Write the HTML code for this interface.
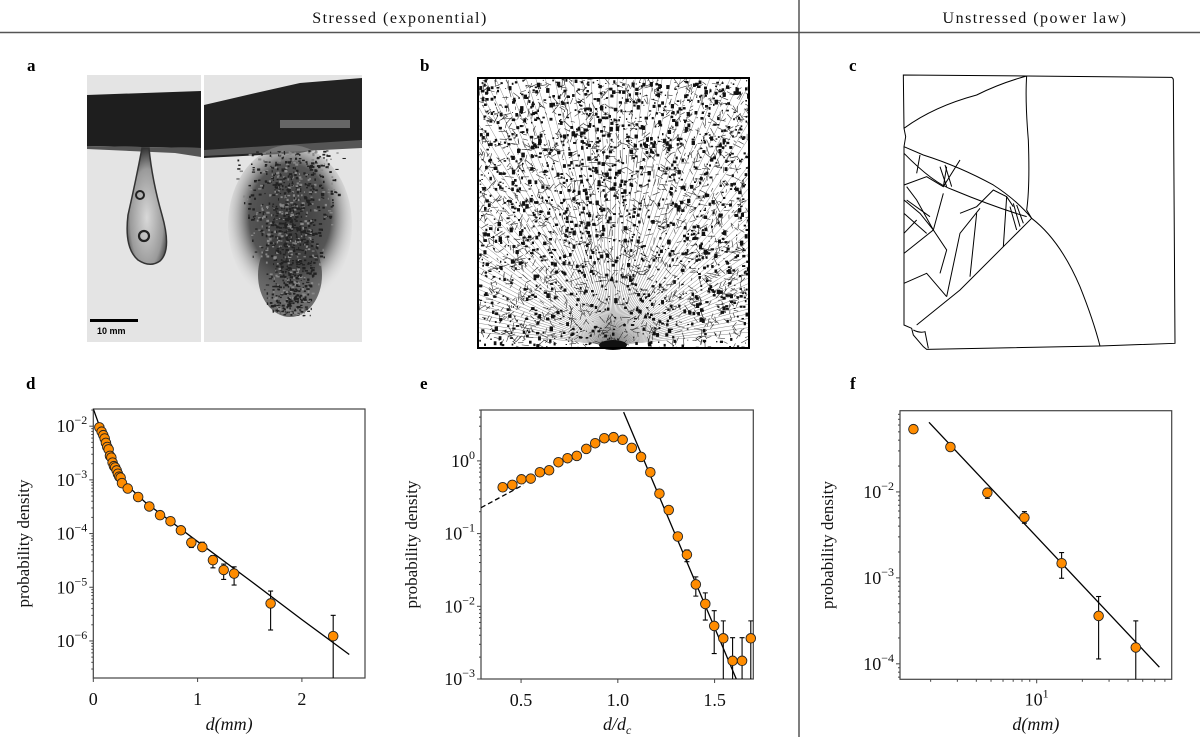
<!DOCTYPE html>
<html><head><meta charset="utf-8"><style>
html,body{margin:0;padding:0;background:#fff;}
svg{display:block;font-family:"Liberation Serif",serif;}
</style></head><body>
<svg id="fig" width="1200" height="737" viewBox="0 0 1200 737" xmlns="http://www.w3.org/2000/svg">
<defs>
<radialGradient id="dropg" cx="0.5" cy="0.6" r="0.6"><stop offset="0" stop-color="#d8d8d8"/><stop offset="0.7" stop-color="#9a9a9a"/><stop offset="1" stop-color="#333"/></radialGradient>
<radialGradient id="cloudg" cx="0.5" cy="0.45" r="0.55"><stop offset="0" stop-color="#3a3a3a"/><stop offset="0.6" stop-color="#555"/><stop offset="1" stop-color="#e0e0e0" stop-opacity="0"/></radialGradient>
<clipPath id="bclip"><rect x="478" y="78" width="271" height="270"/></clipPath>
<clipPath id="aclip"><rect x="204" y="75" width="158" height="267"/></clipPath>
</defs>
<rect x="0" y="0" width="1200" height="737" fill="#fff"/>
<text x="400" y="23" text-anchor="middle" font-size="16" letter-spacing="1.5" fill="#111">Stressed (exponential)</text>
<text x="1035" y="23" text-anchor="middle" font-size="16" letter-spacing="1.5" fill="#111">Unstressed (power law)</text>
<line x1="0" y1="32.5" x2="1200" y2="32.5" stroke="#555" stroke-width="1.5"/>
<line x1="799" y1="0" x2="799" y2="737" stroke="#555" stroke-width="1.5"/>

<g font-weight="bold" font-size="17" fill="#000">
<text x="27" y="71">a</text>
<text x="420" y="71">b</text>
<text x="849" y="71">c</text>
<text x="26" y="389">d</text>
<text x="420" y="389">e</text>
<text x="850" y="389">f</text>
</g>

<!-- panel a -->
<g>
<rect x="87" y="75" width="114" height="267" fill="#e4e4e4"/>
<path d="M87,95 L201,91 L201,148 L87,146 Z" fill="#1e1e1e"/>
<path d="M87,146 L201,148 L201,157 L175,153 L87,149 Z" fill="#555"/>
<path d="M142,148 L149,148 Q152,180 162,215 Q172,250 160,261 Q150,268 138,260 Q124,248 128,215 Q136,180 142,148 Z" fill="url(#dropg)" stroke="#333" stroke-width="1.5"/>
<circle cx="140" cy="195" r="4" fill="none" stroke="#222" stroke-width="2"/>
<circle cx="144" cy="236" r="5" fill="none" stroke="#222" stroke-width="2.2"/>
<rect x="90" y="319" width="48" height="3" fill="#000"/>
<text x="97" y="334" font-family="Liberation Sans,sans-serif" font-size="9" font-weight="bold">10 mm</text>
</g>
<g clip-path="url(#aclip)">
<rect x="204" y="75" width="158" height="267" fill="#e4e4e4"/>
<path d="M204,105 L260,92 L300,83 L362,78 L362,140 L300,153 L204,158 Z" fill="#222"/>
<path d="M204,150 L362,140 L362,148 L204,156 Z" fill="#555"/>
<rect x="280" y="120" width="70" height="8" fill="#666"/>
<ellipse cx="290" cy="225" rx="62" ry="80" fill="url(#cloudg)"/>
<ellipse cx="290" cy="275" rx="32" ry="42" fill="#3a3a3a" opacity="0.7"/>
<g id="debris"></g>
</g>

<!-- panel b -->
<g>
<rect x="478" y="78" width="271" height="270" fill="#fff"/>
<g id="bcracks" clip-path="url(#bclip)"></g>
<ellipse cx="613" cy="345" rx="14" ry="5" fill="#111"/>
<rect x="478" y="78" width="271" height="270" fill="none" stroke="#000" stroke-width="2"/>
</g>

<!-- panel c -->
<g transform="translate(760,0) scale(0.33333)" fill="none" stroke="#000" stroke-width="3">
<path d="M430,225 L800,228 L1235,232 Q1240,235 1240,240 L1245,1030 L1020,1038 L500,1048 L490,1040 L460,1005 L455,985 L432,975 L432,440 L437,410 L432,385 Z"/>
<path d="M432,385 Q520,320 650,285 Q720,250 800,228"/>
<path d="M800,228 Q795,300 805,420 Q810,560 800,630 L815,655"/>
<path d="M432,440 L490,465 Q600,500 700,555 Q770,600 815,655"/>
<path d="M815,655 Q900,720 960,860 Q1000,960 1020,1038"/>
<path d="M815,655 L740,730 L600,870 L470,975"/>
<path d="M432,460 Q520,550 580,570 Q700,620 800,650"/>
<path d="M432,850 L500,820 L560,890"/>
<path d="M432,760 L520,690 L560,750 L540,820"/>
<path d="M520,690 L470,600 L440,560"/>
<path d="M432,555 L500,530 L550,560 L600,480 M550,560 L560,500 M480,465 L470,520"/>
<path d="M600,640 L650,620 L700,570 L740,590 L760,620 M560,890 L600,700 L660,625 M630,830 L650,640 M730,740 L740,590"/>
<path d="M432,600 L480,640 L520,690 M432,700 L470,660 M550,580 L520,690 M432,640 L500,700 M440,600 L510,650"/>
<path d="M760,610 L780,680 M770,615 L790,670 M750,620 L770,690 M540,500 L560,560 M555,495 L575,560"/>
<path d="M460,990 Q480,1000 495,995 L505,1045"/>
</g>

<g id="plots"></g>
</svg>
<script>
// ---------------- data: panel d ----------------
const dX = [0.058,0.08,0.096,0.109,0.121,0.134,0.147,0.16,0.173,0.185,0.198,0.21,0.224,0.236,0.249,0.262,0.275,0.33,0.43,0.537,0.64,0.74,0.84,0.94,1.045,1.147,1.25,1.35,1.7,2.3];
const dY = [9.5e-3,7.9e-3,6.8e-3,5.9e-3,4.9e-3,4.1e-3,3.7e-3,2.8e-3,2.6e-3,2.1e-3,1.8e-3,1.7e-3,1.5e-3,1.3e-3,1.15e-3,1.1e-3,8.7e-4,6.9e-4,4.8e-4,3.2e-4,2.2e-4,1.7e-4,1.15e-4,6.8e-5,5.6e-5,3.2e-5,2.1e-5,1.8e-5,5e-6,1.23e-6];
const dErrHi = [null,null,null,null,null,null,null,null,null,null,null,null,null,null,null,null,null,null,null,null,null,null,null,8.1e-5,6.9e-5,3.9e-5,2.7e-5,2.4e-5,8.5e-6,3e-6];
const dErrLo = [null,null,null,null,null,null,null,null,null,null,null,null,null,null,null,null,null,null,null,null,null,null,null,5.5e-5,4.7e-5,2.3e-5,1.4e-5,1.1e-5,1.6e-6,1e-9];
const dFitX = [0,0.06,0.15,0.25,0.35,0.5,1,1.5,2,2.454];
const dFitY = [2.1e-2,1e-2,3.5e-3,1.3e-3,7.1e-4,3.8e-4,7.1e-5,1.35e-5,2.5e-6,5.6e-7];
const dXTicks = [0,1,2];
const dXTickLabels = ["0","1","2"];
const dYTicks = [-2,-3,-4,-5,-6];
// ---------------- data: panel e ----------------
const eX = [0.405,0.455,0.502,0.55,0.597,0.645,0.693,0.74,0.788,0.837,0.883,0.93,0.978,1.025,1.072,1.12,1.168,1.215,1.263,1.31,1.357,1.403,1.452,1.498,1.545,1.593,1.642,1.687];
const eY = [0.434,0.468,0.558,0.571,0.698,0.743,0.959,1.089,1.172,1.462,1.75,2.05,2.12,1.95,1.51,1.135,0.698,0.355,0.211,0.0912,0.0513,0.02,0.0108,0.00537,0.00363,0.00178,0.00178,0.00363];
const eErrHi = [null,null,null,null,null,null,null,null,null,null,null,null,null,null,null,null,null,null,null,null,0.0596,0.0254,0.0153,0.0087,0.0063,0.0037,0.0037,0.0063];
const eErrLo = [null,null,null,null,null,null,null,null,null,null,null,null,null,null,null,null,null,null,null,null,0.0411,0.0138,0.00646,0.00224,1e-4,1e-4,1e-4,1e-4];
const eFitX = [1.03,1.612];
const eFitY = [4.68,1e-3];
const eDashX = [0.293,0.512];
const eDashY = [0.227,0.468];
const eXTicks = [0.5,1.0,1.5];
const eXTickLabels = ["0.5","1.0","1.5"];
const eYTicks = [0,-1,-2,-3];
// ---------------- data: panel f ----------------
const fX = [1.54,2.70,4.73,8.3,14.6,25.6,45];
const fY = [0.0537,0.0333,0.0098,0.00503,0.00148,0.000361,0.000155];
const fErrHi = [null,null,0.011,0.0059,0.00197,0.000607,0.000316];
const fErrLo = [null,null,0.00843,0.00433,0.00099,0.000114,1e-6];
const fFitX = [1.95,64.4];
const fFitY = [0.0646,9.14e-5];
const fXTicks = [10];
const fYTicks = [-2,-3,-4];

const NS = "http://www.w3.org/2000/svg";
const root = document.getElementById('plots');
function el(tag, attrs, parent){
  const e = document.createElementNS(NS, tag);
  for (const k in attrs) e.setAttribute(k, attrs[k]);
  (parent||root).appendChild(e);
  return e;
}
function lin(d0,d1,p0,p1){return v=>p0+(v-d0)/(d1-d0)*(p1-p0);}
function logs(d0,d1,p0,p1){return v=>p0+(Math.log10(v)-d0)/(d1-d0)*(p1-p0);}

function powLabel(g,x,y,exp,anchor){
  const t = el('text',{x:x,y:y,'font-size':18,'text-anchor':anchor||'end',fill:'#111'},g);
  t.appendChild(document.createTextNode('10'));
  const s = el('tspan',{'font-size':12,dy:-8},t);
  s.textContent = exp<0 ? '\u2212'+(-exp) : String(exp);
  return t;
}

function drawPanel(cfg){
  const g = el('g',{});
  
  
  const b = cfg.box;
  const cp = el('clipPath',{id:cfg.name+'-clip'},g);
  el('rect',{x:b.x0,y:b.y0,width:b.x1-b.x0,height:b.y1-b.y0},cp);
  const fr = el('rect',{x:b.x0,y:b.y0,width:b.x1-b.x0,height:b.y1-b.y0,fill:'none',stroke:'#444','stroke-width':1.2},g);
  
  
  const inner = el('g',{'clip-path':'url(#'+cfg.name+'-clip)'},g);
  cfg.lines.forEach(L=>{
    const pts = L.x.map((v,i)=>cfg.sx(v).toFixed(2)+','+cfg.sy(L.y[i]).toFixed(2)).join(' ');
    const pl = el('polyline',{points:pts,fill:'none',stroke:'#000','stroke-width':1.3,'stroke-dasharray':L.dash||'none'},inner);
    
    
  });
  cfg.x.forEach((v,i)=>{
    if (cfg.hi[i]==null) return;
    const px = cfg.sx(v), yh = cfg.sy(cfg.hi[i]), yl = Math.min(cfg.sy(cfg.lo[i]), b.y1+2);
    const eb = el('g',{stroke:'#000','stroke-width':1.1},inner);
    
    
    el('line',{x1:px,y1:yh,x2:px,y2:yl},eb);
    el('line',{x1:px-2.5,y1:yh,x2:px+2.5,y2:yh},eb);
    el('line',{x1:px-2.5,y1:yl,x2:px+2.5,y2:yl},eb);
  });
  cfg.x.forEach((v,i)=>{
    const c = el('circle',{cx:cfg.sx(v),cy:cfg.sy(cfg.y[i]),r:4.8,fill:'#ff8c00',stroke:'#222','stroke-width':0.9},g);
    
    
  });
  const tk = el('g',{stroke:'#444','stroke-width':1},g);
  
  
  cfg.yMajor.forEach(e=>{
    const py = cfg.sy(Math.pow(10,e));
    el('line',{x1:b.x0-4,y1:py,x2:b.x0,y2:py},tk);
    const lab = powLabel(g,b.x0-6,py+6,e);
    
    
  });
  for (let e=cfg.yRange[0]; e<=cfg.yRange[1]; e++){
    for (let m=2;m<10;m++){
      const v = m*Math.pow(10,e), py = cfg.sy(v);
      if (py<b.y0||py>b.y1) continue;
      el('line',{x1:b.x0-2,y1:py,x2:b.x0,y2:py},tk);
    }
  }
  cfg.xTicks.forEach((v,i)=>{
    const px = cfg.sx(v);
    el('line',{x1:px,y1:b.y1,x2:px,y2:b.y1+4},tk);
    if (cfg.xLog){
      const lab = powLabel(g,px,b.y1+26,Math.round(Math.log10(v)),'middle');
      
      
    } else {
      const t = el('text',{x:px,y:b.y1+27,'font-size':18,'text-anchor':'middle',fill:'#111'},g);
      t.textContent = cfg.xLabels[i];
      
      
    }
  });
  if (cfg.xLog){
    for (let e=0;e<=1;e++) for (let m=2;m<10;m++){
      const px = cfg.sx(m*Math.pow(10,e));
      if (px<b.x0||px>b.x1) continue;
      el('line',{x1:px,y1:b.y1,x2:px,y2:b.y1+2.5},tk);
    }
  }
  const yl = el('text',{x:0,y:0,'font-size':17,'text-anchor':'middle',fill:'#111',transform:'translate('+cfg.yLabelX+','+((b.y0+b.y1)/2)+') rotate(-90)'},g);
  yl.textContent = 'probability density';
  
  
  const xl = el('text',{x:(b.x0+b.x1)/2,y:730,'font-size':18,'text-anchor':'middle','font-style':'italic',fill:'#111'},g);
  if (cfg.xTitle==='dc'){
    xl.appendChild(document.createTextNode('d/d'));
    const s = el('tspan',{'font-size':12,dy:4},xl); s.textContent='c';
  } else {
    xl.textContent = 'd(mm)';
  }
  
  
}

(function(){
  const box={x0:93.3,x1:365,y0:409,y1:678};
  drawPanel({name:'chart-d',box:box,sx:lin(0,2.605,box.x0,box.x1),sy:logs(-1.68,-6.69,box.y0,box.y1),
    x:dX,y:dY,hi:dErrHi,lo:dErrLo,lines:[{x:dFitX,y:dFitY,name:'fit-line'}],
    yMajor:dYTicks,yRange:[-7,-2],xTicks:dXTicks,xLabels:dXTickLabels,yLabelX:29,xTitle:'d'});
})();
(function(){
  const box={x0:481,x1:753.3,y0:410,y1:679};
  drawPanel({name:'chart-e',box:box,sx:lin(0.293,1.70,box.x0,box.x1),sy:logs(0.70,-3,box.y0,box.y1),
    x:eX,y:eY,hi:eErrHi,lo:eErrLo,lines:[{x:eFitX,y:eFitY,name:'exponential-fit-line'},{x:eDashX,y:eDashY,name:'dashed-fit-line',dash:'5,3'}],
    yMajor:eYTicks,yRange:[-3,0],xTicks:eXTicks,xLabels:eXTickLabels,yLabelX:417,xTitle:'dc'});
})();
(function(){
  const box={x0:900,x1:1171.7,y0:410.7,y1:679.3};
  drawPanel({name:'chart-f',box:box,sx:logs(0.099,1.89,box.x0,box.x1),sy:logs(-1.055,-4.18,box.y0,box.y1),
    x:fX,y:fY,hi:fErrHi,lo:fErrLo,lines:[{x:fFitX,y:fFitY,name:'power-law-fit-line'}],
    yMajor:fYTicks,yRange:[-5,-2],xTicks:fXTicks,xLog:true,yLabelX:833,xTitle:'d'});
})();

// photo textures (decorative)
let seed = 12345;
function rnd(){ seed = (seed*1103515245+12345) & 0x7fffffff; return seed/0x7fffffff; }
const bc = document.getElementById('bcracks');
for (let i=0;i<90;i++){
  const a = Math.PI*(0.03+0.94*i/89);
  el('line',{x1:613,y1:345,x2:613-Math.cos(a)*300,y2:345-Math.sin(a)*300,stroke:'#888','stroke-width':0.5},bc);
}
for (let i=0;i<1800;i++){
  const x = 479+rnd()*269, y = 79+rnd()*268;
  const a = rnd()*Math.PI*2, l = 3+rnd()*6;
  el('line',{x1:x,y1:y,x2:x+Math.cos(a)*l,y2:y+Math.sin(a)*l,stroke:'#333','stroke-width':0.6},bc);
}
for (let i=0;i<4200;i++){
  const x = 479+rnd()*269, y = 79+rnd()*268;
  const dy = (y-79)/268;
  if (rnd() < dy*0.4) continue;
  const s = 0.8+rnd()*2.6;
  el('rect',{x:x,y:y,width:s,height:s*(0.5+rnd()),fill:'#111'},bc);
}
const db = document.getElementById('debris');
for (let i=0;i<1100;i++){
  const cy = 150+rnd()*165, w = 65*(1-(cy-150)/250);
  const x = 290+(rnd()*2-1)*w*Math.sqrt(rnd()), y = cy;
  el('rect',{x:x,y:y,width:1+rnd()*2.5,height:1+rnd()*1.5,fill:rnd()<0.7?'#222':'#888'},db);
}
</script>
</body></html>
